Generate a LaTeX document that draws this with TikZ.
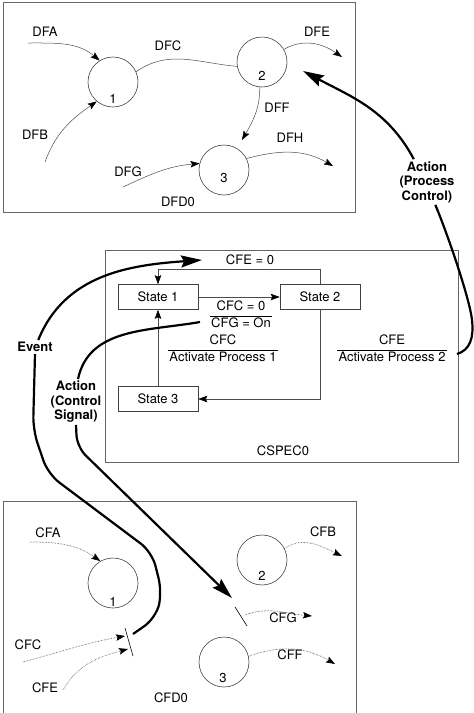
\documentclass[tikz,border=0pt]{standalone}
\usepackage{fontspec}
\setmainfont{TeX Gyre Heros}
\usetikzlibrary{arrows.meta}
\newcommand{\condact}[2]{\renewcommand{\arraystretch}{1.15}%
  \begin{tabular}{@{\hspace{1.5pt}}c@{\hspace{1.5pt}}}#1\\\hline #2\end{tabular}}
\tikzset{
  bubble/.style={draw=black!75, circle, minimum size=50pt, inner sep=0pt, line width=0.6pt},
  statebox/.style={draw=black!75, minimum width=80pt, minimum height=25pt, inner sep=0pt, line width=0.6pt},
  frame/.style={draw=black!60, line width=0.8pt},
  dline/.style={draw=black!70, line width=0.5pt},
  dflow/.style={dline, -{Stealth[length=9pt,width=6.5pt,inset=1.5pt,color=black]}},
  cflow/.style={dflow, densely dotted, line width=0.7pt},
  ctlline/.style={line width=2.2pt},
  ctlarrow/.style={ctlline, -{Stealth[length=21pt,width=12pt,inset=3pt]}},
  strong/.style={font=\fontsize{13}{14.5}\selectfont\bfseries, align=center, inner sep=2pt}
}

\begin{document}
\begin{tikzpicture}[x=1pt, y=1pt, font=\fontsize{13}{14.5}\selectfont]
    \useasboundingbox (0,0) rectangle (474,-713);

    % DFD0
    \draw[frame] (3,-2) rectangle (355,-212);
    \node[bubble] (d1) at (113,-82) {};
    \node[bubble] (d2) at (262,-62) {};
    \node[bubble] (d3) at (224,-170) {};
    \node (d1n) at (113,-99) {1};
    \node (d2n) at (262,-76) {2};
    \node (d3n) at (224,-178) {3};
    \node (ldfa) at (45,-32) {DFA};
    \node (ldfb) at (35,-135) {DFB};
    \node (ldfc) at (168,-46) {DFC};
    \node (ldfe) at (317,-32) {DFE};
    \node (ldff) at (277,-108) {DFF};
    \node (ldfh) at (290,-138) {DFH};
    \node (ldfg) at (128,-172) {DFG};
    \node (ldfd) at (178,-202) {DFD0};
    \coordinate (dfa0) at (28,-43);
    \coordinate (dfb0) at (45,-162);
    \coordinate (dfe1) at (342,-57);
    \coordinate (dff1) at (242,-140);
    \coordinate (dfh1) at (333,-166);
    \coordinate (dfg0) at (123,-187);
    \draw[dflow] (dfa0) to[out=0,in=140] (d1.122);
    \draw[dflow] (dfb0) to[out=70,in=215] (d1.230);
    \draw[dline] (d1.24) to[out=35,in=175] (d2.190);
    \draw[dflow] (d2.30) to[out=30,in=145] (dfe1);
    \draw[dflow] (d2.265) to[out=-90,in=60] (dff1);
    \draw[dflow] (d3.27) to[out=15,in=150] (dfh1);
    \draw[dflow] (dfg0) to[out=25,in=185] (d3.165);

    % CSPEC0
    \draw[frame] (105,-250) rectangle (458,-462);
    \node[statebox] (s1) at (158,-297) {State 1};
    \node[statebox] (s2) at (320,-297) {State 2};
    \node[statebox] (s3) at (158,-399) {State 3};
    \node (cond21) at (250,-260) {CFE = 0};
    \node[inner sep=0pt] (cond12) at (241,-316) {\condact{CFC = 0}{CFG = On}};
    \node[inner sep=0pt] (cond23) at (223,-350) {\condact{CFC}{Activate Process 1}};
    \node[inner sep=0pt] (cond2p) at (392,-350) {\condact{CFE}{Activate Process 2}};
    \node (lcspec) at (283,-451) {CSPEC0};
    \draw[dflow] (s1) -- (s2);
    \draw[dflow] (s2.south) |- (s3.east);
    \draw[dflow] (s2.north) -- ++(0,15) -| (s1.north);
    \draw[dflow] (s3) -- (s1);

    % CFD0
    \draw[frame] (3,-716) -- (3,-501) -- (356,-501) -- (356,-716);
    \node[bubble] (c1) at (113,-583) {};
    \node[bubble] (c2) at (262,-560) {};
    \node[bubble] (c3) at (224,-662) {};
    \node (c1n) at (113,-602) {1};
    \node (c2n) at (262,-576) {2};
    \node (c3n) at (223,-678) {3};
    \node (lcfa) at (48,-533) {CFA};
    \node (lcfb) at (323,-532) {CFB};
    \node (lcfg) at (283,-618) {CFG};
    \node (lcff) at (290,-655) {CFF};
    \node (lcfc) at (28,-645) {CFC};
    \node (lcfe) at (45,-688) {CFE};
    \node (lcfd) at (171,-698) {CFD0};
    \coordinate (bar1a) at (125,-628);
    \coordinate (bar1b) at (133,-656);
    \coordinate (bar2a) at (235,-607);
    \coordinate (bar2b) at (247,-626);
    \coordinate (cfa0) at (30,-542);
    \coordinate (cfb1) at (342,-556);
    \coordinate (cfg0) at (245,-615);
    \coordinate (cfg1) at (312,-616);
    \coordinate (cff1) at (335,-664);
    \coordinate (cfc0) at (23,-662);
    \coordinate (cfc1) at (125,-636);
    \coordinate (cfe0) at (63,-690);
    \coordinate (cfe1) at (128,-649);
    \draw[line width=0.6pt] (bar1a) -- (bar1b);
    \draw[line width=0.6pt] (bar2a) -- (bar2b);
    \draw[cflow] (cfa0) to[out=0,in=145] (c1.120);
    \draw[cflow] (c2.27) to[out=35,in=155] (cfb1);
    \draw[cflow] (cfg0) to[out=20,in=175] (cfg1);
    \draw[cflow] (c3.13) to[out=20,in=150] (cff1);
    \draw[cflow] (cfc0) to[out=15,in=190] (cfc1);
    \draw[cflow] (cfe0) to[out=60,in=195] (cfe1);

    % control arrows
    \node[strong] (apc) at (427,-182) {Action\\(Process\\Control)};
    \node[strong] (ev) at (35,-347) {Event};
    \node[strong] (acs) at (76,-402) {Action\\(Control\\Signal)};
    \coordinate (pctip) at (303,-71);
    \coordinate (pc0) at (457,-354);
    \coordinate (evtip) at (202,-260);
    \coordinate (evend) at (133,-634);
    \coordinate (acsend) at (200,-322);
    \coordinate (acstip) at (232,-598);
    \draw[ctlline] (pc0) .. controls (470,-350) and (474,-338) .. (472,-320)
        .. controls (470,-300) and (448,-235) .. (apc.-70);
    \draw[ctlarrow] (apc.120) to[out=118,in=-28] (pctip);
    \draw[ctlline, rounded corners=14pt] (evend) -- (156,-618) -- (162,-592)
        -- (152,-552) -- (48,-474) -- (33,-430) -- (ev.south);
    \draw[ctlarrow] (ev.65) to[out=68,in=184] (evtip);
    \draw[ctlline] (acsend) to[out=190,in=78] (acs.85);
    \draw[ctlarrow, rounded corners=12pt] (acs.south) -- (77,-447) -- (acstip);
\end{tikzpicture}
\end{document}
